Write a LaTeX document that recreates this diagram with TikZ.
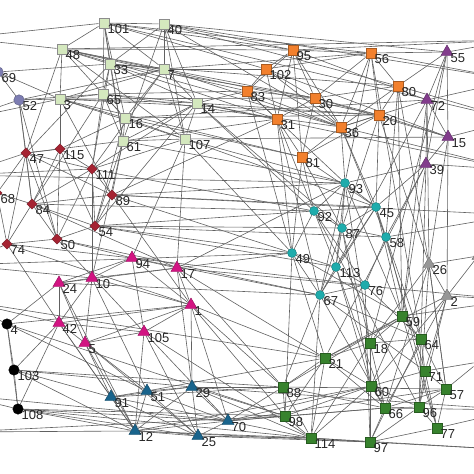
\documentclass[tikz,border=0pt]{standalone}
\usepackage{fontspec}
\setmainfont{Liberation Sans}
\usepackage{tikz}
\usetikzlibrary{shapes.geometric}
\pgfdeclarelayer{edges}
\pgfsetlayers{edges,main}
\definecolor{lgreen}{RGB}{212,232,190}
\definecolor{orng}{RGB}{242,128,45}
\definecolor{purp}{RGB}{130,60,140}
\definecolor{peri}{RGB}{125,125,178}
\definecolor{dred}{RGB}{165,35,50}
\definecolor{mgnt}{RGB}{210,20,130}
\definecolor{tealc}{RGB}{30,172,172}
\definecolor{lgray}{RGB}{150,150,150}
\definecolor{navy}{RGB}{25,100,140}
\definecolor{dgreen}{RGB}{55,130,45}
\tikzset{
  x=1pt, y=-1pt, % pixel like coordinates
  edge/.style={draw=black!62, line width=0.6pt}, % every link of the network
  sq/.style={rectangle, minimum size=10.5pt, inner sep=0pt, line width=0.4pt}, % square nodes
  dm/.style={diamond, minimum size=10.5pt, inner sep=0pt, line width=0.4pt}, % diamond nodes
  ci/.style={circle, minimum size=10.5pt, inner sep=0pt, line width=0.4pt}, % round nodes
  tri/.style={regular polygon, regular polygon sides=3, minimum size=14pt, inner sep=0pt, line width=0.4pt}, % triangles
  lgn/.style={sq, fill=lgreen, draw=black!45},
  org/.style={sq, fill=orng, draw=orng!70!black},
  pur/.style={tri, fill=purp, draw=purp!70!black},
  per/.style={ci, fill=peri, draw=peri!70!black},
  red/.style={dm, fill=dred, draw=dred!70!black},
  mag/.style={tri, fill=mgnt, draw=mgnt!70!black},
  blk/.style={ci, fill=black, draw=black},
  tel/.style={ci, minimum size=9pt, fill=tealc, draw=tealc!70!black},
  gry/.style={tri, fill=lgray, draw=lgray!70!black},
  nvy/.style={tri, fill=navy, draw=navy!70!black},
  dgn/.style={sq, fill=dgreen, draw=dgreen!70!black},
  lbl/.style={anchor=north west, inner sep=0pt, xshift=3.5pt, yshift=-1.5pt, text=black!85, font=\fontsize{13}{13}\selectfont},
}
% vertex with its number below right
\newcommand{\vtx}[4]{\node[#1] (n#2) at (#3,#4) {}; \node[lbl] (t#2) at (#3,#4) {#2};}

\begin{document}
\begin{tikzpicture}
  \useasboundingbox (0,0) rectangle (474,474);
  \clip (0,0) rectangle (474,474);

  % light green group
  \vtx{lgn}{101}{104}{23} \vtx{lgn}{40}{164}{24} \vtx{lgn}{48}{62}{49}
  \vtx{lgn}{33}{110}{64} \vtx{lgn}{7}{164}{69} \vtx{lgn}{3}{60}{99}
  \vtx{lgn}{65}{103}{94} \vtx{lgn}{14}{197}{103} \vtx{lgn}{16}{125}{118}
  \vtx{lgn}{61}{123}{141} \vtx{lgn}{107}{185}{139}
  % orange group
  \vtx{org}{95}{293}{50} \vtx{org}{56}{371}{53} \vtx{org}{102}{266}{69}
  \vtx{org}{83}{247}{91} \vtx{org}{30}{315}{98} \vtx{org}{80}{398}{86}
  \vtx{org}{31}{277}{119} \vtx{org}{20}{379}{115} \vtx{org}{36}{341}{127}
  \vtx{org}{81}{302}{157}
  % purple group
  \vtx{pur}{55}{447}{52} \vtx{pur}{72}{427}{100} \vtx{pur}{15}{448}{137}
  \vtx{pur}{39}{426}{164}
  \vtx{per}{52}{19}{100} \vtx{per}{69}{-2}{72}
  % red group
  \vtx{red}{47}{26}{153} \vtx{red}{115}{60}{149} \vtx{red}{111}{92}{169}
  \vtx{red}{89}{112}{195} \vtx{red}{68}{-3}{193} \vtx{red}{84}{32}{204}
  \vtx{red}{54}{95}{226} \vtx{red}{50}{57}{239} \vtx{red}{74}{7}{244}
  % magenta group
  \vtx{mag}{94}{132}{258} \vtx{mag}{17}{177}{268} \vtx{mag}{24}{59}{283}
  \vtx{mag}{10}{92}{278} \vtx{mag}{1}{191}{305} \vtx{mag}{42}{59}{323}
  \vtx{mag}{105}{144}{332} \vtx{mag}{5}{85}{343}
  \vtx{blk}{4}{7}{324} \vtx{blk}{103}{14}{370} \vtx{blk}{108}{18}{409}
  % blue group
  \vtx{nvy}{29}{192}{387} \vtx{nvy}{91}{111}{397} \vtx{nvy}{51}{147}{391}
  \vtx{nvy}{70}{228}{421} \vtx{nvy}{12}{135}{431} \vtx{nvy}{25}{198}{436}
  % teal group
  \vtx{tel}{93}{345}{183} \vtx{tel}{45}{376}{207} \vtx{tel}{92}{314}{211}
  \vtx{tel}{87}{342}{228} \vtx{tel}{58}{386}{237} \vtx{tel}{49}{292}{253}
  \vtx{tel}{113}{336}{267} \vtx{tel}{76}{365}{285} \vtx{tel}{67}{320}{295}
  \vtx{gry}{26}{429}{264} \vtx{gry}{2}{447}{296}
  \node[gry] (ngX) at (478,256) {};
  % dark green group
  \vtx{dgn}{59}{402}{316} \vtx{dgn}{64}{421}{339} \vtx{dgn}{18}{370}{343}
  \vtx{dgn}{21}{325}{358} \vtx{dgn}{71}{425}{371} \vtx{dgn}{88}{283}{387}
  \vtx{dgn}{60}{371}{386} \vtx{dgn}{57}{446}{389} \vtx{dgn}{66}{385}{408}
  \vtx{dgn}{96}{419}{407} \vtx{dgn}{98}{285}{416} \vtx{dgn}{77}{437}{428}
  \vtx{dgn}{114}{311}{438} \vtx{dgn}{97}{370}{442}
  \node[dgn] (ndX) at (479,362) {};

  % links that leave the frame
  \coordinate (nL1) at (-40,38);  \coordinate (nL2) at (-40,120);
  \coordinate (nL3) at (-40,175); \coordinate (nL4) at (-40,265);
  \coordinate (nL5) at (-40,300); \coordinate (nL6) at (-40,395);
  \coordinate (nL7) at (-40,432);
  \coordinate (nR1) at (515,40);  \coordinate (nR2) at (515,80);
  \coordinate (nR3) at (515,120); \coordinate (nR4) at (515,170);
  \coordinate (nR5) at (515,215); \coordinate (nR6) at (515,300);
  \coordinate (nR7) at (515,410); \coordinate (nR8) at (515,450);

  \begin{pgfonlayer}{edges}
  % inside the groups
  \foreach \a/\b in {101/40,101/48,101/33,101/65,101/16,101/61,101/7,40/7,40/33,40/107,40/14,40/61,
      48/3,48/33,48/16,48/107,48/7,33/65,33/7,33/14,33/61,7/3,7/14,7/107,7/16,3/65,3/14,3/16,3/107,
      65/16,65/61,65/14,16/61,16/107,14/107,61/107,14/61,
      95/102,95/56,95/30,95/31,95/36,95/83,56/30,56/80,56/20,56/36,56/102,102/83,102/31,102/30,
      83/31,83/36,30/36,30/31,30/81,30/80,80/36,80/20,31/81,20/36,36/81,20/81,83/30,
      55/72,55/15,55/39,72/15,72/39,15/39,52/69,
      47/115,47/84,47/111,47/50,115/111,115/84,115/50,115/54,111/89,111/84,111/54,111/50,89/54,
      89/84,84/50,84/74,84/54,50/54,50/74,74/47,68/84,68/74,68/47,
      94/17,94/10,94/105,94/24,17/1,17/10,17/24,10/24,10/42,10/5,24/42,24/5,1/105,1/5,1/42,
      105/5,105/42,42/5,94/1,4/103,4/108,103/108,
      29/91,29/51,29/70,29/25,29/12,91/51,91/12,51/12,51/25,12/25,12/70,25/70,91/70,
      93/45,93/92,93/87,93/67,93/113,45/87,45/58,45/67,45/113,45/92,92/87,92/49,92/113,87/58,
      87/67,87/113,58/76,49/67,49/113,113/76,113/67,76/67,92/76,26/2,2/gX,26/gX,
      59/64,59/18,59/21,59/60,59/88,64/18,64/71,64/57,64/96,18/21,18/60,18/66,18/97,21/88,21/98,
      21/114,21/60,21/66,71/57,71/60,71/96,71/77,88/98,88/114,88/66,60/66,60/97,60/96,57/96,
      57/77,57/66,66/97,66/96,96/77,98/114,114/97,114/60,97/77,97/96,98/66,88/57,71/dX,57/dX}
    \draw[edge] (n\a) -- (n\b);
  % between the groups
  \foreach \a/\b in {101/95,101/56,40/55,40/80,48/83,48/95,7/30,7/36,7/102,14/83,14/31,14/20,
      33/80,65/36,3/81,16/20,16/72,61/93,107/45,107/15,3/89,65/111,61/54,33/47,52/3,52/65,52/7,
      52/84,52/50,52/47,69/3,69/33,115/16,111/14,111/107,89/31,89/49,54/92,54/58,50/94,84/17,
      74/1,47/61,50/105,54/87,111/10,89/1,17/93,17/49,17/29,94/67,1/21,1/88,1/70,105/12,105/25,
      5/91,5/51,42/103,42/108,24/4,10/51,24/12,4/1,4/98,103/88,103/29,108/70,108/114,108/25,
      108/98,91/88,51/21,29/114,70/98,70/88,70/66,25/97,12/60,12/114,70/57,31/67,31/92,81/87,
      81/45,36/93,36/58,20/87,20/26,80/59,80/26,56/64,95/72,102/15,83/49,30/15,72/59,15/2,
      39/45,39/64,39/21,55/18,72/113,93/59,45/71,58/77,76/97,76/64,113/60,67/114,67/66,49/98,
      87/18,92/96,26/57,26/66,2/21,2/60,26/18,2/96,59/49,64/67,71/67}
    \draw[edge] (n\a) -- (n\b);
  % more long links across the picture
  \foreach \a/\b in {48/36,48/20,33/31,33/30,65/83,3/30,3/20,16/81,61/31,107/93,107/49,14/92,
      14/87,7/56,40/95,40/36,101/102,61/89,16/54,3/115,48/47,65/84,33/111,7/111,14/54,107/17,
      107/94,61/10,111/92,89/93,89/45,54/49,54/113,50/67,84/92,47/89,74/94,74/42,24/67,10/1,
      94/76,17/88,17/21,1/29,1/98,105/70,105/114,5/12,5/25,42/91,42/12,4/51,103/12,103/91,
      108/12,91/25,51/70,29/88,29/98,12/97,25/114,70/60,70/114,88/67,98/60,114/18,97/64,77/59,
      66/2,96/26,71/2,57/26,64/58,59/45,18/93,21/49,60/87,66/113,83/93,31/49,81/92,81/49,36/45,
      20/45,80/58,56/93,95/81,102/36,30/20,55/80,55/56,72/36,15/20,39/58,39/93,15/26,72/26,39/59}
    \draw[edge] (n\a) -- (n\b);
  % to vertices outside the frame
  \foreach \a/\b in {L1/48,L1/101,L2/52,L2/3,L3/47,L3/111,L4/74,L4/10,L5/4,L5/42,L6/108,L6/70,
      L7/12,L7/98,R1/55,R1/95,R2/72,R2/56,R3/15,R3/80,R4/39,R4/36,R5/58,R5/gX,R6/2,R6/59,
      R7/77,R7/66,R8/97,R8/114,R2/40,R3/101,R1/48,R4/14,R5/89,R6/17,R7/29,L3/93,L4/49,L5/21}
    \draw[edge] (n\a) -- (n\b);
  \end{pgfonlayer}
\end{tikzpicture}
\end{document}
